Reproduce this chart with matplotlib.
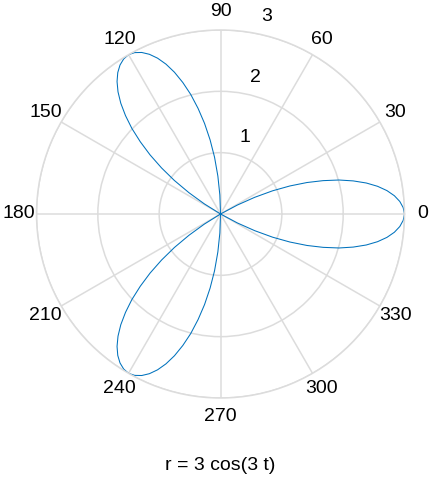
import numpy as np
import matplotlib.pyplot as plt

plt.rcParams['font.family'] = ['Liberation Sans', 'DejaVu Sans']

# one petal of the rose: angle offset from the petal axis (deg) -> radius
petal_offset = [0, 2, 4, 6, 8, 10, 12, 14, 16, 18, 20, 22, 24, 26, 28, 30]
petal_r = [3.00, 2.98, 2.93, 2.85, 2.74, 2.60, 2.43, 2.23, 2.01, 1.76,
           1.50, 1.22, 0.93, 0.62, 0.31, 0.00]
petal_axes = [0, 120, 240]

theta_ticks = [0, 30, 60, 90, 120, 150, 180, 210, 240, 270, 300, 330]
r_ticks = [1, 2, 3]
caption = 'r = 3 cos(3 t)'

grid_c = '#dcdcdc'
line_c = '#0072bd'

fig = plt.figure(figsize=(4.32, 4.79), dpi=100)
ax = fig.add_axes([0.0845, 0.1691, 0.8519, 0.7683], projection='polar')

# full petal profile, mirrored about its axis
off = np.array([-o for o in petal_offset[::-1]] + petal_offset[1:], dtype=float)
rr = np.array(petal_r[::-1] + petal_r[1:])
for c in petal_axes:
    ax.plot(np.deg2rad(c + off), rr, color=line_c, lw=0.75)

ax.set_ylim(0, 3)
ax.set_thetagrids(theta_ticks, [str(t) for t in theta_ticks], fontsize=14)
ax.tick_params(axis='x', pad=2.5)
ax.set_rgrids(r_ticks, labels=['', '', ''])
ax.grid(True, color=grid_c, lw=1.1)
ax.spines['polar'].set_color(grid_c)
ax.spines['polar'].set_linewidth(1.1)

for r in r_ticks:
    ax.annotate(str(r), xy=(np.deg2rad(80), r), xytext=(10, 11.5),
                textcoords='offset points', ha='center', va='center',
                fontsize=14, annotation_clip=False)

fig.text(220 / 432, 1 - 465 / 479, caption, ha='center', va='center', fontsize=14)

fig.savefig('out.png', dpi=100)
